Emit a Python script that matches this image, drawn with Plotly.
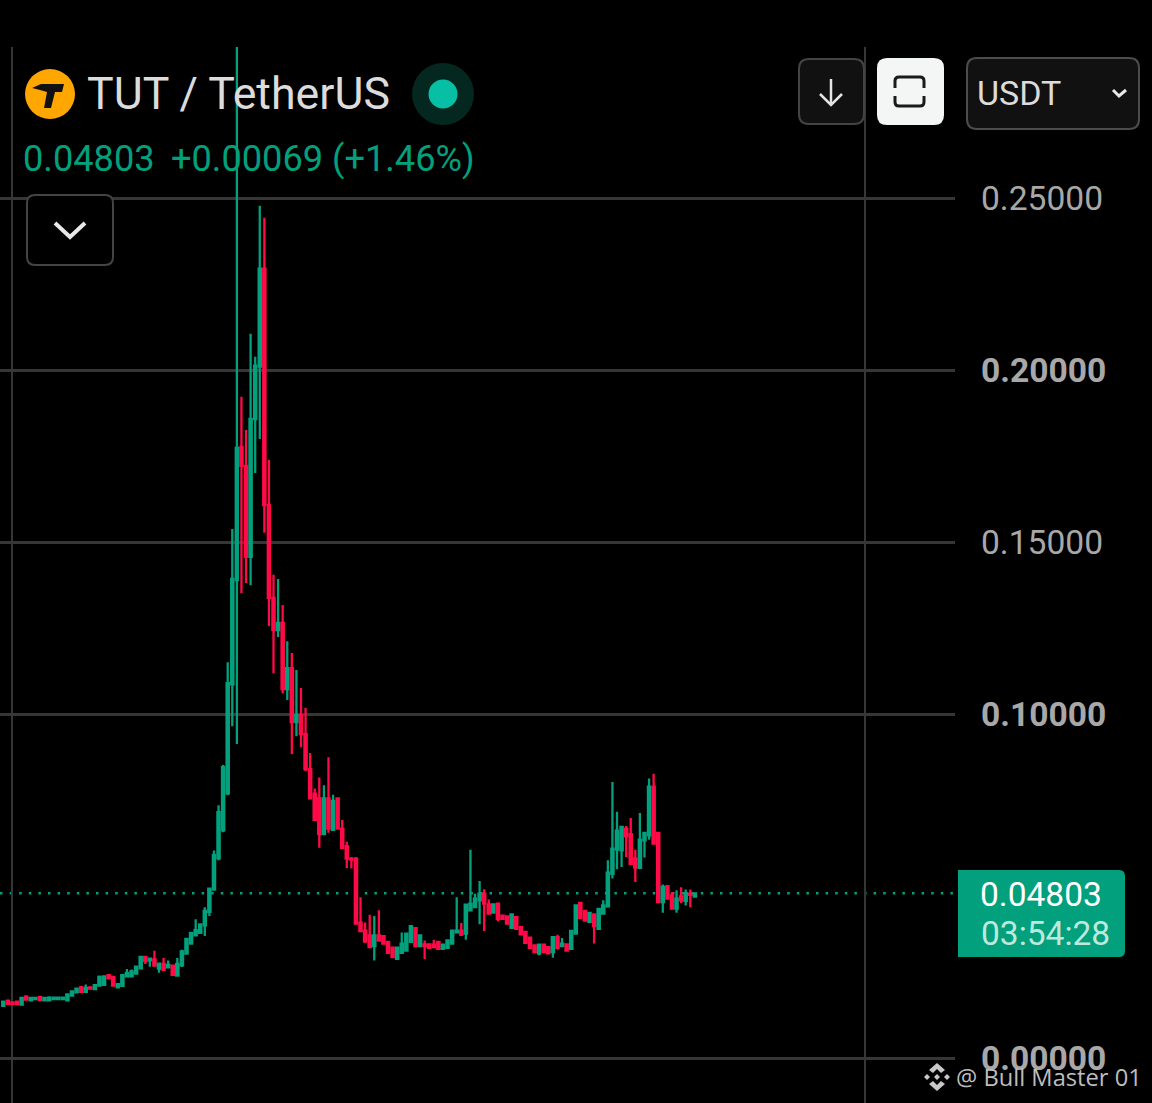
import plotly.graph_objects as go

# prices, one candle per index
open_prices = [
    .0153, .0168, .0163, .0165, .0157, .0180, .0169, .0173, .0178, .0169,
    .0169, .0173, .0173, .0173, .0169, .0183, .0192, .0207, .0194, .0207,
    .0202, .0212, .0214, .0242, .0237, .0207, .0211, .0239, .0239, .0247,
    .0262, .0295, .0285, .0288, .0261, .0275, .0265, .0270, .0241, .0271,
    .0305, .0334, .0358, .0365, .0387, .0426, .0491, .0582, .0663, .0771,
    .1088, .1391, .1778, .1723, .1458, .1859, .2011, .2296, .1609, .1339,
    .1245, .1266, .1074, .1135, .0978, .0998, .0943, .0841, .0770, .0756,
    .0652, .0756, .0665, .0756, .0668, .0617, .0581, .0581, .0395, .0372,
    .0358, .0327, .0358, .0356, .0339, .0322, .0290, .0307, .0314, .0339,
    .0379, .0327, .0332, .0332, .0331, .0339, .0319, .0322, .0334, .0367,
    .0372, .0363, .0431, .0440, .0460, .0479, .0448, .0424, .0450, .0415,
    .0413, .0380, .0411, .0382, .0368, .0351, .0329, .0306, .0331, .0324,
    .0309, .0353, .0327, .0332, .0319, .0363, .0452, .0429, .0397, .0419,
    .0377, .0421, .0442, .0537, .0607, .0605, .0668, .0652, .0581, .0554,
    .0634, .0649, .0790, .0656, .0455, .0501, .0474, .0436, .0471, .0458,
    .0479, .0471,
]
high_prices = [
    .0165, .0169, .0163, .0168, .0177, .0184, .0176, .0176, .0178, .0176,
    .0181, .0177, .0177, .0177, .0186, .0195, .0203, .0211, .0215, .0207,
    .0213, .0241, .0239, .0242, .0237, .0216, .0246, .0260, .0259, .0270,
    .0295, .0295, .0290, .0313, .0276, .0292, .0285, .0270, .0292, .0316,
    .0348, .0365, .0405, .0390, .0440, .0494, .0605, .0736, .0853, .1152,
    .1539, .2942, .1924, .1827, .2107, .2040, .2479, .2444, .1740, .1406,
    .1394, .1318, .1213, .1179, .1129, .1077, .1019, .0888, .0785, .0817,
    .0794, .0876, .0767, .0758, .0693, .0630, .0586, .0586, .0469, .0395,
    .0418, .0414, .0431, .0356, .0339, .0322, .0322, .0366, .0366, .0385,
    .0379, .0358, .0343, .0332, .0345, .0339, .0331, .0343, .0372, .0469,
    .0394, .0450, .0607, .0479, .0516, .0492, .0462, .0448, .0450, .0415,
    .0413, .0419, .0411, .0382, .0368, .0351, .0329, .0331, .0331, .0324,
    .0353, .0360, .0350, .0332, .0371, .0445, .0452, .0429, .0423, .0419,
    .0435, .0460, .0576, .0804, .0717, .0673, .0676, .0699, .0607, .0714,
    .0656, .0814, .0828, .0656, .0506, .0501, .0484, .0489, .0498, .0491,
    .0491, .0481,
]
low_prices = [
    .0152, .0159, .0158, .0158, .0157, .0169, .0169, .0173, .0168, .0169,
    .0169, .0173, .0173, .0173, .0167, .0183, .0192, .0191, .0194, .0203,
    .0202, .0212, .0214, .0233, .0212, .0207, .0211, .0239, .0239, .0247,
    .0262, .0275, .0267, .0270, .0249, .0258, .0265, .0243, .0241, .0266,
    .0305, .0334, .0358, .0365, .0356, .0414, .0491, .0576, .0658, .0765,
    .0966, .0914, .1353, .1382, .1376, .1702, .1801, .1528, .1257, .1120,
    .1225, .1062, .1042, .0885, .0937, .0905, .0835, .0753, .0694, .0613,
    .0652, .0656, .0663, .0668, .0612, .0554, .0552, .0392, .0370, .0340,
    .0321, .0285, .0343, .0331, .0307, .0293, .0290, .0307, .0312, .0339,
    .0327, .0327, .0289, .0322, .0324, .0319, .0319, .0322, .0334, .0367,
    .0356, .0345, .0431, .0440, .0390, .0371, .0418, .0424, .0399, .0406,
    .0392, .0380, .0377, .0361, .0336, .0322, .0309, .0300, .0309, .0306,
    .0293, .0317, .0327, .0314, .0319, .0363, .0409, .0401, .0397, .0334,
    .0377, .0421, .0442, .0523, .0550, .0557, .0586, .0566, .0513, .0554,
    .0584, .0636, .0625, .0455, .0424, .0465, .0436, .0424, .0452, .0445,
    .0440, .0471,
]
close_prices = [
    .0165, .0159, .0158, .0158, .0176, .0171, .0176, .0176, .0170, .0176,
    .0177, .0177, .0177, .0177, .0186, .0195, .0203, .0194, .0205, .0203,
    .0213, .0237, .0239, .0233, .0212, .0216, .0242, .0248, .0253, .0267,
    .0295, .0283, .0290, .0270, .0276, .0258, .0272, .0243, .0275, .0311,
    .0348, .0365, .0373, .0390, .0429, .0494, .0591, .0716, .0847, .1091,
    .1394, .1775, .1723, .1458, .1859, .2014, .2296, .1609, .1339, .1245,
    .1266, .1074, .1135, .0978, .0998, .0943, .0841, .0756, .0694, .0652,
    .0756, .0668, .0749, .0668, .0612, .0581, .0578, .0392, .0370, .0340,
    .0324, .0358, .0343, .0334, .0307, .0295, .0322, .0334, .0363, .0385,
    .0327, .0358, .0327, .0322, .0324, .0319, .0331, .0343, .0372, .0372,
    .0360, .0447, .0450, .0465, .0479, .0450, .0421, .0448, .0406, .0406,
    .0392, .0419, .0377, .0361, .0336, .0322, .0309, .0331, .0309, .0306,
    .0353, .0322, .0334, .0314, .0371, .0445, .0409, .0401, .0423, .0385,
    .0435, .0445, .0540, .0610, .0662, .0673, .0646, .0566, .0555, .0636,
    .0656, .0790, .0625, .0455, .0499, .0465, .0436, .0465, .0460, .0481,
    .0476, .0480,
]
candle_index = list(range(len(open_prices)))

price_ticks = [0.0, 0.10, 0.15, 0.20, 0.25]
price_labels = ["<b>0.00000</b>", "<b>0.10000</b>", "0.15000", "<b>0.20000</b>", "0.25000"]
vertical_grid = [1.9, 188.1]
last_price = 0.04803

GREEN = "#02a07d"
RED = "#ff0a47"
GRID = "#363636"
FONT = "Roboto, sans-serif"

W, H = 1152, 1103
PLOT_TOP, PLOT_RIGHT = 47, 955


# overlay widgets are placed in screen pixels, plot axes stay in price units
def px(x):
    return x / PLOT_RIGHT


def py(y):
    return (H - y) / (H - PLOT_TOP)


def rect_path(x0, y0, x1, y1, r):
    return (f"M {px(x0 + r)} {py(y0)} L {px(x1 - r)} {py(y0)} "
            f"Q {px(x1)} {py(y0)} {px(x1)} {py(y0 + r)} L {px(x1)} {py(y1 - r)} "
            f"Q {px(x1)} {py(y1)} {px(x1 - r)} {py(y1)} L {px(x0 + r)} {py(y1)} "
            f"Q {px(x0)} {py(y1)} {px(x0)} {py(y1 - r)} L {px(x0)} {py(y0 + r)} "
            f"Q {px(x0)} {py(y0)} {px(x0 + r)} {py(y0)} Z")


def poly_path(points, close=False):
    d = "M " + " L ".join(f"{px(x)} {py(y)}" for x, y in points)
    return d + " Z" if close else d


fig = go.Figure()

fig.add_trace(go.Candlestick(
    x=candle_index,
    open=open_prices,
    high=high_prices,
    low=low_prices,
    close=close_prices,
    increasing=dict(line=dict(color=GREEN, width=2.3), fillcolor=GREEN),
    decreasing=dict(line=dict(color=RED, width=2.3), fillcolor=RED),
    whiskerwidth=0,
    showlegend=False,
))

fig.add_hline(y=last_price, line=dict(color=GREEN, width=2.5, dash="2.5px,7.1px"), layer="below")


def add_shape(path, fill=None, line=None, width=0):
    fig.add_shape(type="path", path=path, xref="paper", yref="paper",
                  fillcolor=fill or "rgba(0,0,0,0)",
                  line=dict(color=line or "rgba(0,0,0,0)", width=width))


def add_circle(cx, cy, r, fill):
    fig.add_shape(type="circle", xref="paper", yref="paper",
                  x0=px(cx - r), x1=px(cx + r), y0=py(cy + r), y1=py(cy - r),
                  fillcolor=fill, line=dict(width=0))


def add_text(x, y, text, size, color, anchor="left", font=FONT):
    fig.add_annotation(x=px(x), y=py(y), xref="paper", yref="paper", text=text, showarrow=False,
                       xanchor=anchor, yanchor="middle", xshift=0, borderpad=0, borderwidth=0,
                       font=dict(family=font, size=size, color=color))


# header: coin logo, name, live dot
add_circle(50, 94, 25, "#ffa700")
add_shape(poly_path([(32, 88), (41, 84), (64, 84), (62, 92), (55, 92), (51, 108), (44, 108), (47, 92), (40, 90)], True),
          fill="#111111")
add_text(87, 94, "TUT / TetherUS", 44.7, "#dcdcdc")
add_circle(443, 94, 31, "#04271f")
add_circle(443, 94, 14.5, "#06bfa5")
add_text(23, 158, "0.04803", 36.2, GREEN)
add_text(171, 158, "+0.00069 (+1.46%)", 36.2, GREEN)

# collapse button
add_shape(rect_path(27, 195, 113, 265, 8), fill="#000000", line="#444444", width=2)
add_shape(poly_path([(55, 223), (70, 237), (85, 223)]), line="#e8e8e8", width=4)

# toolbar buttons
add_shape(rect_path(799, 59, 864, 124, 10), fill="#111111", line="#444444", width=2)
add_shape(poly_path([(831, 79), (831, 105)]), line="#e4e4e4", width=2.5)
add_shape(poly_path([(820, 94), (831, 105), (842, 94)]), line="#e4e4e4", width=2.5)
add_shape(rect_path(877, 58, 944, 125, 10), fill="#f4f5f5")
add_shape(f"M {px(895)} {py(88)} L {px(895)} {py(81)} Q {px(895)} {py(77)} {px(899)} {py(77)} "
          f"L {px(920)} {py(77)} Q {px(924)} {py(77)} {px(924)} {py(81)} L {px(924)} {py(88)}",
          line="#1a1a1a", width=3)
add_shape(f"M {px(895)} {py(96)} L {px(895)} {py(102)} Q {px(895)} {py(106)} {px(899)} {py(106)} "
          f"L {px(920)} {py(106)} Q {px(924)} {py(106)} {px(924)} {py(102)} L {px(924)} {py(96)}",
          line="#1a1a1a", width=3)
add_shape(rect_path(967, 58, 1139, 129, 10), fill="#111111", line="#4c4c4c", width=2)
add_text(977, 93, "USDT", 34, "#dcdcdc")
add_shape(poly_path([(1113, 90), (1119, 96), (1126, 90)]), line="#e8e8e8", width=3)

# last price tag
add_shape(f"M {px(958)} {py(870)} L {px(1119)} {py(870)} Q {px(1125)} {py(870)} {px(1125)} {py(876)} "
          f"L {px(1125)} {py(951)} Q {px(1125)} {py(957)} {px(1119)} {py(957)} L {px(958)} {py(957)} Z",
          fill=GREEN)
add_text(1041, 894, "0.04803", 33.5, "#ffffff", anchor="center")
add_text(1045, 933, "03:54:28", 33.5, "#bfe8dd", anchor="center")

# watermark
for cx, cy, r in [(937, 1077, 3), (927, 1077, 3), (947, 1077, 3)]:
    add_shape(poly_path([(cx - r, cy), (cx, cy - r), (cx + r, cy), (cx, cy + r)], True), fill="#c8c8c8")
add_shape(poly_path([(929, 1070), (937, 1063), (945, 1070), (941, 1073), (937, 1069), (933, 1073)], True), fill="#c8c8c8")
add_shape(poly_path([(929, 1084), (937, 1091), (945, 1084), (941, 1081), (937, 1085), (933, 1081)], True), fill="#c8c8c8")
add_text(956, 1077, "@ Bull Master 01", 23.7, "#bdbdbd", font="Open Sans, sans-serif")

fig.update_layout(
    width=W,
    height=H,
    autosize=False,
    margin=dict(l=0, r=W - PLOT_RIGHT, t=PLOT_TOP, b=0),
    paper_bgcolor="#000000",
    plot_bgcolor="#000000",
    showlegend=False,
    hovermode=False,
    dragmode=False,
)
fig.update_xaxes(
    range=[-0.72, 207.8],
    rangeslider_visible=False,
    tickmode="array",
    tickvals=vertical_grid,
    showticklabels=False,
    ticks="",
    showgrid=True,
    gridcolor=GRID,
    gridwidth=2,
    zeroline=False,
    showline=False,
)
fig.update_yaxes(
    range=[-44.5 / 3440, 1011.5 / 3440],
    side="right",
    tickmode="array",
    tickvals=price_ticks,
    ticktext=price_labels,
    tickfont=dict(family=FONT, size=33.6, color="#a8a8a8"),
    ticks="",
    ticklabelstandoff=25,
    showgrid=True,
    gridcolor=GRID,
    gridwidth=2.5,
    zeroline=False,
    showline=False,
)

fig.write_html("out.html", config={"displayModeBar": False},
               post_script="document.body.style.margin='0';document.body.style.background='#000';")
